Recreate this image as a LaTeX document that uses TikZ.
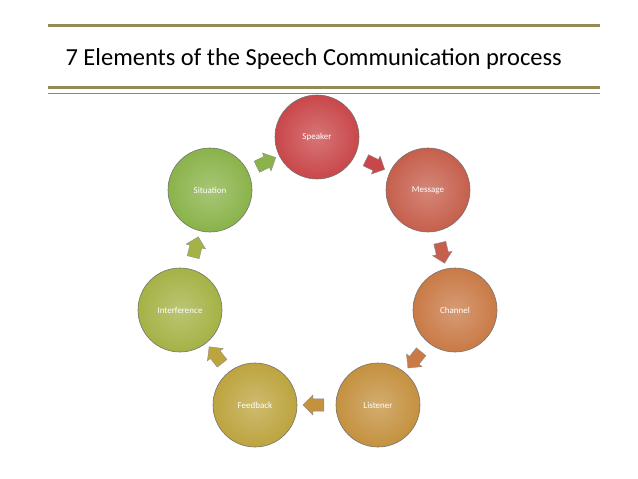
\documentclass[tikz,border=0pt]{standalone}
\usepackage{fontspec}
\setmainfont{Carlito}
\usetikzlibrary{shapes.arrows}
\definecolor{olive}{HTML}{948A54}
\definecolor{cA}{HTML}{C9474A}
\definecolor{cB}{HTML}{C65F4C}
\definecolor{cC}{HTML}{C97A46}
\definecolor{cD}{HTML}{C4913F}
\definecolor{cE}{HTML}{BDA43F}
\definecolor{cF}{HTML}{A5B245}
\definecolor{cG}{HTML}{8AB34A}
\tikzset{
 circ/.style={circle,minimum size=84pt,draw=black!55,line width=0.6pt,text=white,font=\fontsize{9}{10}\selectfont,shading=radial,inner color=#1!75!white,outer color=#1},
 arr/.style={single arrow,draw=black!45,fill=#1,minimum height=21pt,minimum width=20pt,single arrow head extend=2pt,single arrow head indent=0pt,inner sep=3pt}
}
\begin{document}
\begin{tikzpicture}[x=1pt,y=-1pt]
\useasboundingbox (0,0) rectangle (638,479);
\draw[olive,line width=3pt] (48,25) -- (600,25);
\draw[olive,line width=3pt] (48,87) -- (600,87);
\draw[olive,line width=1pt] (48,93) -- (600,93);
\node[anchor=west,font=\fontsize{24.5}{28}\selectfont] (t) at (62,59) {7 Elements of the Speech Communication process};
\node[circ=cA] (sp) at (317,137) {Speaker};
\node[circ=cB] (me) at (428,190) {Message};
\node[circ=cC] (ch) at (455,310) {Channel};
\node[circ=cD] (li) at (378,405) {Listener};
\node[circ=cE] (fe) at (255,405) {Feedback};
\node[circ=cF] (in) at (180,310) {Interference};
\node[circ=cG] (si) at (210,190) {Situation};
\path (sp) -- (me) node[midway,arr=cA,rotate=-26]{};
\path (me) -- (ch) node[midway,arr=cB,rotate=-77]{};
\path (ch) -- (li) node[midway,arr=cC,rotate=-129]{};
\path (li) -- (fe) node[midway,arr=cD,rotate=180]{};
\path (fe) -- (in) node[midway,arr=cE,rotate=128]{};
\path (in) -- (si) node[midway,arr=cF,rotate=76]{};
\path (si) -- (sp) node[midway,arr=cG,rotate=26]{};
\end{tikzpicture}
\end{document}
